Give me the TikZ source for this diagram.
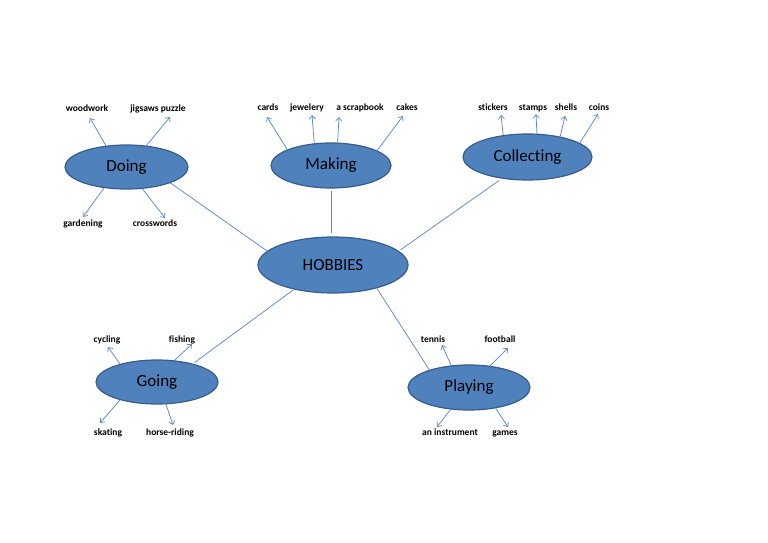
\documentclass[tikz,border=0pt]{standalone}
\usepackage{fontspec}
\setmainfont{Carlito}[Ligatures=CommonOff]
\usetikzlibrary{shapes.geometric,arrows.meta}
\definecolor{efill}{HTML}{4F81BD}
\definecolor{edraw}{HTML}{385D8A}
\definecolor{lcol}{HTML}{5B8AC6}
\begin{document}
\begin{tikzpicture}[x=1pt,y=-1pt,
 hub/.style={ellipse,draw=edraw,fill=efill,line width=1.2pt,inner sep=0pt,font=\fontsize{17}{20}\selectfont},
 lbl/.style={anchor=base,inner sep=0pt,font=\fontsize{9.5}{11}\selectfont\bfseries},
 link/.style={draw=lcol,line width=0.75pt},
 arr/.style={link,-{Straight Barb[length=3.5pt,width=6pt]}}]
\useasboundingbox (0,0) rectangle (768,543);

% ellipses
\node[hub,minimum width=150pt,minimum height=56pt] (H) at (333,265) {HOBBIES};
\node[hub,minimum width=123pt,minimum height=44pt] (D) at (126.5,167) {Doing};
\node[hub,minimum width=120pt,minimum height=45pt] (M) at (331,165.5) {Making};
\node[hub,minimum width=129pt,minimum height=46pt] (C) at (527.5,157) {Collecting};
\node[hub,minimum width=122pt,minimum height=44pt] (G) at (157,382) {Going};
\node[hub,minimum width=122pt,minimum height=45pt] (P) at (469,387.5) {Playing};

% links to the centre
\draw[link] (D.-20) -- (H.168);
\draw[link,shorten <=2pt,shorten >=3pt] (M.south) -- (M.south |- H.north);
\draw[link,shorten <=3pt,shorten >=2pt] (C.-140) -- (H.12);
\draw[link,shorten <=2pt] (G.27) -- (H.-148);
\draw[link] (H.-28) -- (P.156);

% labels
\node[lbl] (ww) at (87,111) {woodwork};
\node[lbl] (jp) at (158,111) {jigsaws puzzle};
\node[lbl] (ga) at (83,226) {gardening};
\node[lbl] (cw) at (155,226) {crosswords};

\node[lbl] (ca) at (268,110) {cards};
\node[lbl] (je) at (307,110) {jewelery};
\node[lbl] (sb) at (360,110) {a scrapbook};
\node[lbl] (ck) at (407,110) {cakes};

\node[lbl] (st) at (493,110) {stickers};
\node[lbl] (sa) at (533,110) {stamps};
\node[lbl] (sh) at (566,110) {shells};
\node[lbl] (co) at (599,110) {coins};

\node[lbl] (cy) at (107,342) {cycling};
\node[lbl] (fi) at (182,342) {fishing};
\node[lbl] (sk) at (108,435) {skating};
\node[lbl] (hr) at (170,435) {horse-riding};

\node[lbl] (te) at (433,342) {tennis};
\node[lbl] (fb) at (500,342) {football};
\node[lbl] (ai) at (450,435) {an instrument};
\node[lbl] (gm) at (505,435) {games};

% arrows
\draw[arr] (D.134) -- ([xshift=3pt,yshift=-7pt]ww.base);
\draw[arr] (D.47) -- ([xshift=12pt,yshift=-6pt]jp.base);
\draw[arr] (D.-137) -- ([xshift=0pt,yshift=9pt]ga.base);
\draw[arr] (D.-54) -- ([xshift=10pt,yshift=8pt]cw.base);

\draw[arr] (M.160) -- ([xshift=-1pt,yshift=-7pt]ca.base);
\draw[arr] (M.127) -- ([xshift=5pt,yshift=-5pt]je.base);
\draw[arr] (M.74) -- ([xshift=-21pt,yshift=-7pt]sb.base);
\draw[arr] (M.18) -- ([xshift=-4pt,yshift=-6pt]ck.base);

\draw[arr] (C.138) -- ([xshift=8pt,yshift=-5pt]st.base);
\draw[arr] (C.68) -- ([xshift=3pt,yshift=-4pt]sa.base);
\draw[arr] (C.32) -- ([xshift=-1pt,yshift=-6pt]sh.base);
\draw[arr] (C.15) -- ([xshift=-1pt,yshift=-4pt]co.base);

\draw[arr] (G.154) -- ([xshift=1pt,yshift=-5pt]cy.base);
\draw[arr] (G.51) -- ([xshift=10pt,yshift=-2pt]fi.base);
\draw[arr] (G.-154) -- ([xshift=-8pt,yshift=12pt]sk.base);
\draw[arr] (G.-68) -- ([xshift=3pt,yshift=10pt]hr.base);

\draw[arr] (P.129) -- ([xshift=9pt,yshift=-3pt]te.base);
\draw[arr] (P.46) -- ([xshift=8pt,yshift=-6pt]fb.base);
\draw[arr] (P.-130) -- ([xshift=-13pt,yshift=8pt]ai.base);
\draw[arr] (P.-38) -- ([xshift=3pt,yshift=8pt]gm.base);
\end{tikzpicture}
\end{document}
